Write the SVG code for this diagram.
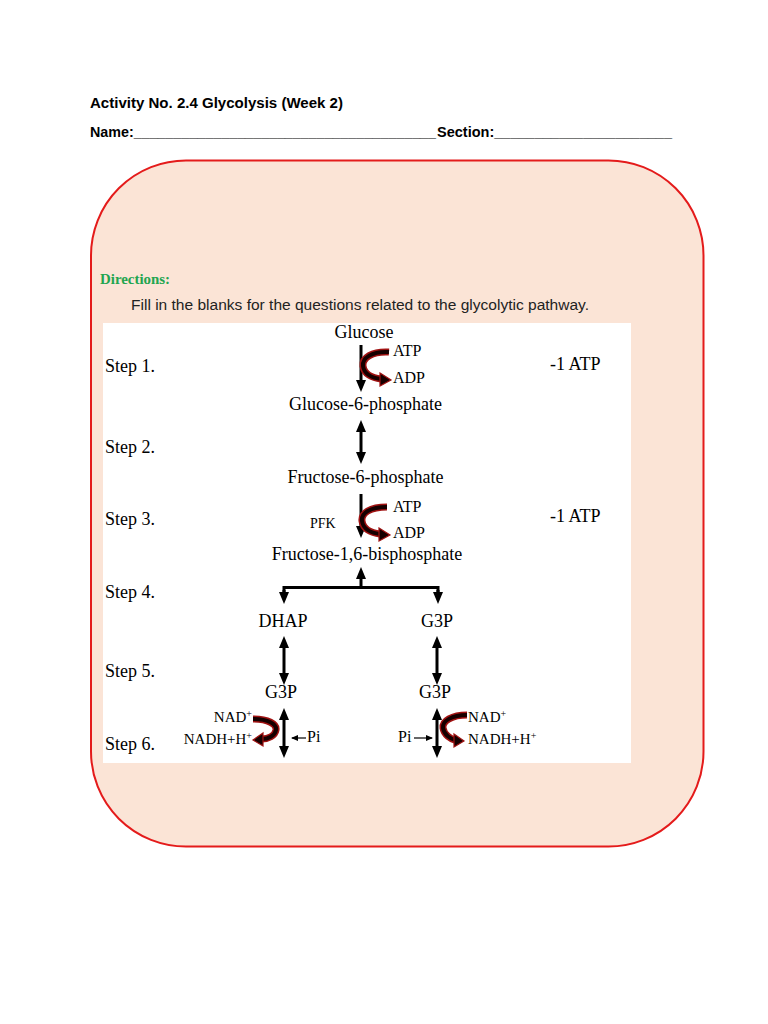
<svg xmlns="http://www.w3.org/2000/svg" width="768" height="1024" viewBox="0 0 768 1024">
<style>
.hdr{font-family:"Liberation Sans",Arial,sans-serif;font-weight:bold;font-size:14px;fill:#000}
.dir{font-family:"Liberation Serif","Times New Roman",serif;font-weight:bold;font-size:14px;fill:#22a550}
.fill{font-family:"Liberation Sans",Arial,sans-serif;font-size:14px;fill:#222}
.t{font-family:"Liberation Serif","Times New Roman",serif;fill:#000}
.big{font-size:18px}
.mid{font-size:16px}
.sm{font-size:15px}
.xs{font-size:14px}
.ln{stroke:#000;stroke-width:3;fill:none}
.thin{stroke:#000;stroke-width:1.2;fill:none}
.cofo{stroke:#a01212;stroke-width:7;fill:none;stroke-linecap:butt}
.cofi{stroke:#160000;stroke-width:4;fill:none;stroke-linecap:butt}
.cofh{fill:#160000;stroke:#a01212;stroke-width:1.2}
</style>
<defs>
<marker id="ah" viewBox="0 0 12 10" refX="4" refY="5" markerWidth="12" markerHeight="10" markerUnits="userSpaceOnUse" orient="auto-start-reverse">
<path d="M0,0 L12,5 L0,10 z" fill="#000"/>
</marker>
<marker id="sa" viewBox="0 0 7 6" refX="6" refY="3" markerWidth="7" markerHeight="6" markerUnits="userSpaceOnUse" orient="auto">
<path d="M0,0 L7,3 L0,6 z" fill="#000"/>
</marker>
</defs>
<rect width="768" height="1024" fill="#fff"/>
<text class="hdr" x="90" y="108" textLength="253" lengthAdjust="spacingAndGlyphs">Activity No. 2.4 Glycolysis (Week 2)</text>
<text class="hdr" x="90" y="137" textLength="346" lengthAdjust="spacingAndGlyphs">Name:______________________________________</text>
<text class="hdr" x="437" y="137" textLength="235" lengthAdjust="spacingAndGlyphs">Section:______________________</text>
<rect id="panel" x="91" y="160.5" width="612.5" height="686" rx="95" ry="95" fill="#fbe4d6" stroke="#e41b1b" stroke-width="2"/>
<text class="dir" x="100" y="284" textLength="70" lengthAdjust="spacingAndGlyphs">Directions:</text>
<text class="fill" x="131" y="310" textLength="458" lengthAdjust="spacingAndGlyphs">Fill in the blanks for the questions related to the glycolytic pathway.</text>
<rect id="figure" x="103" y="323" width="528" height="440" fill="#fff"/>
<g id="steps" class="t big">
<text x="105" y="372">Step 1.</text>
<text x="105" y="453">Step 2.</text>
<text x="105" y="525">Step 3.</text>
<text x="105" y="598">Step 4.</text>
<text x="105" y="677">Step 5.</text>
<text x="105" y="750">Step 6.</text>
</g>
<g id="yield" class="t big">
<text x="550" y="370">-1 ATP</text>
<text x="550" y="522">-1 ATP</text>
</g>
<g id="connectors">
<line class="ln" x1="361" y1="345" x2="361" y2="384" marker-end="url(#ah)"/>
<line class="ln" x1="361" y1="428" x2="361" y2="456" marker-start="url(#ah)" marker-end="url(#ah)"/>
<line class="ln" x1="361" y1="494" x2="361" y2="530" marker-end="url(#ah)"/>
<line class="ln" x1="361" y1="588" x2="361" y2="575" marker-end="url(#ah)"/>
<path class="ln" d="M284,596 V587.5 H438 V596"/>
<line class="ln" x1="284" y1="590" x2="284" y2="596" marker-end="url(#ah)"/>
<line class="ln" x1="438" y1="590" x2="438" y2="596" marker-end="url(#ah)"/>
<line class="ln" x1="284" y1="644" x2="284" y2="677" marker-start="url(#ah)" marker-end="url(#ah)"/>
<line class="ln" x1="437" y1="644" x2="437" y2="677" marker-start="url(#ah)" marker-end="url(#ah)"/>
<line class="ln" x1="284" y1="716" x2="284" y2="750" marker-start="url(#ah)" marker-end="url(#ah)"/>
<line class="ln" x1="437" y1="716" x2="437" y2="750" marker-start="url(#ah)" marker-end="url(#ah)"/>
<line class="thin" x1="306" y1="738" x2="292" y2="738" marker-end="url(#sa)"/>
<line class="thin" x1="414" y1="738" x2="432" y2="738" marker-end="url(#sa)"/>
<g id="cofactor1">
<path class="cofo" d="M389,352 C372,351 362,358 363,366 C364,374 372,378 381,379"/>
<path class="cofi" d="M389,352 C372,351 362,358 363,366 C364,374 372,378 381,379"/>
<polygon class="cofh" points="380,373 391,380 380,386"/>
</g>
<g id="cofactor3">
<path class="cofo" d="M387,507 C370,507 361,513 362,521 C363,529 371,533 380,534"/>
<path class="cofi" d="M387,507 C370,507 361,513 362,521 C363,529 371,533 380,534"/>
<polygon class="cofh" points="379,528 390,535 379,541"/>
</g>
<g id="cofactor6a">
<path class="cofo" d="M253,719 C268,719 277,724 276,730 C275,736 268,739 262,739"/>
<path class="cofi" d="M253,719 C268,719 277,724 276,730 C275,736 268,739 262,739"/>
<polygon class="cofh" points="263,733 253,740 263,746"/>
</g>
<g id="cofactor6b">
<path class="cofo" d="M467,715 C452,715 442,721 443,728 C444,735 451,739 455,740"/>
<path class="cofi" d="M467,715 C452,715 442,721 443,728 C444,735 451,739 455,740"/>
<polygon class="cofh" points="454,734 464,741 454,747"/>
</g>
</g>
<g id="glucose" class="t big"><text x="364" y="338" text-anchor="middle">Glucose</text></g>
<g id="atp1" class="t mid"><text x="393" y="356">ATP</text><text x="393" y="383">ADP</text></g>
<g id="g6p" class="t big"><text x="365.5" y="410" text-anchor="middle">Glucose-6-phosphate</text></g>
<g id="f6p" class="t big"><text x="365.5" y="483" text-anchor="middle">Fructose-6-phosphate</text></g>
<g id="atp3" class="t mid"><text x="393" y="512">ATP</text><text x="393" y="538">ADP</text></g>
<g id="pfk" class="t xs"><text x="310" y="528">PFK</text></g>
<g id="f16bp" class="t big"><text x="367" y="560" text-anchor="middle">Fructose-1,6-bisphosphate</text></g>
<g id="dhap" class="t big"><text x="283" y="627" text-anchor="middle">DHAP</text></g>
<g id="g3p-a" class="t big"><text x="437" y="627" text-anchor="middle">G3P</text></g>
<g id="g3p-b" class="t big"><text x="281" y="698" text-anchor="middle">G3P</text></g>
<g id="g3p-c" class="t big"><text x="435" y="698" text-anchor="middle">G3P</text></g>
<g id="nad-left" class="t sm">
<text x="252" y="722" text-anchor="end">NAD<tspan font-size="10" dy="-5">+</tspan></text>
<text x="252" y="744" text-anchor="end">NADH+H<tspan font-size="10" dy="-5">+</tspan></text>
<text x="307" y="742" font-size="16">Pi</text>
</g>
<g id="nad-right" class="t sm">
<text x="468" y="722">NAD<tspan font-size="10" dy="-5">+</tspan></text>
<text x="468" y="744">NADH+H<tspan font-size="10" dy="-5">+</tspan></text>
<text x="398" y="742" font-size="16">Pi</text>
</g>
</svg>
